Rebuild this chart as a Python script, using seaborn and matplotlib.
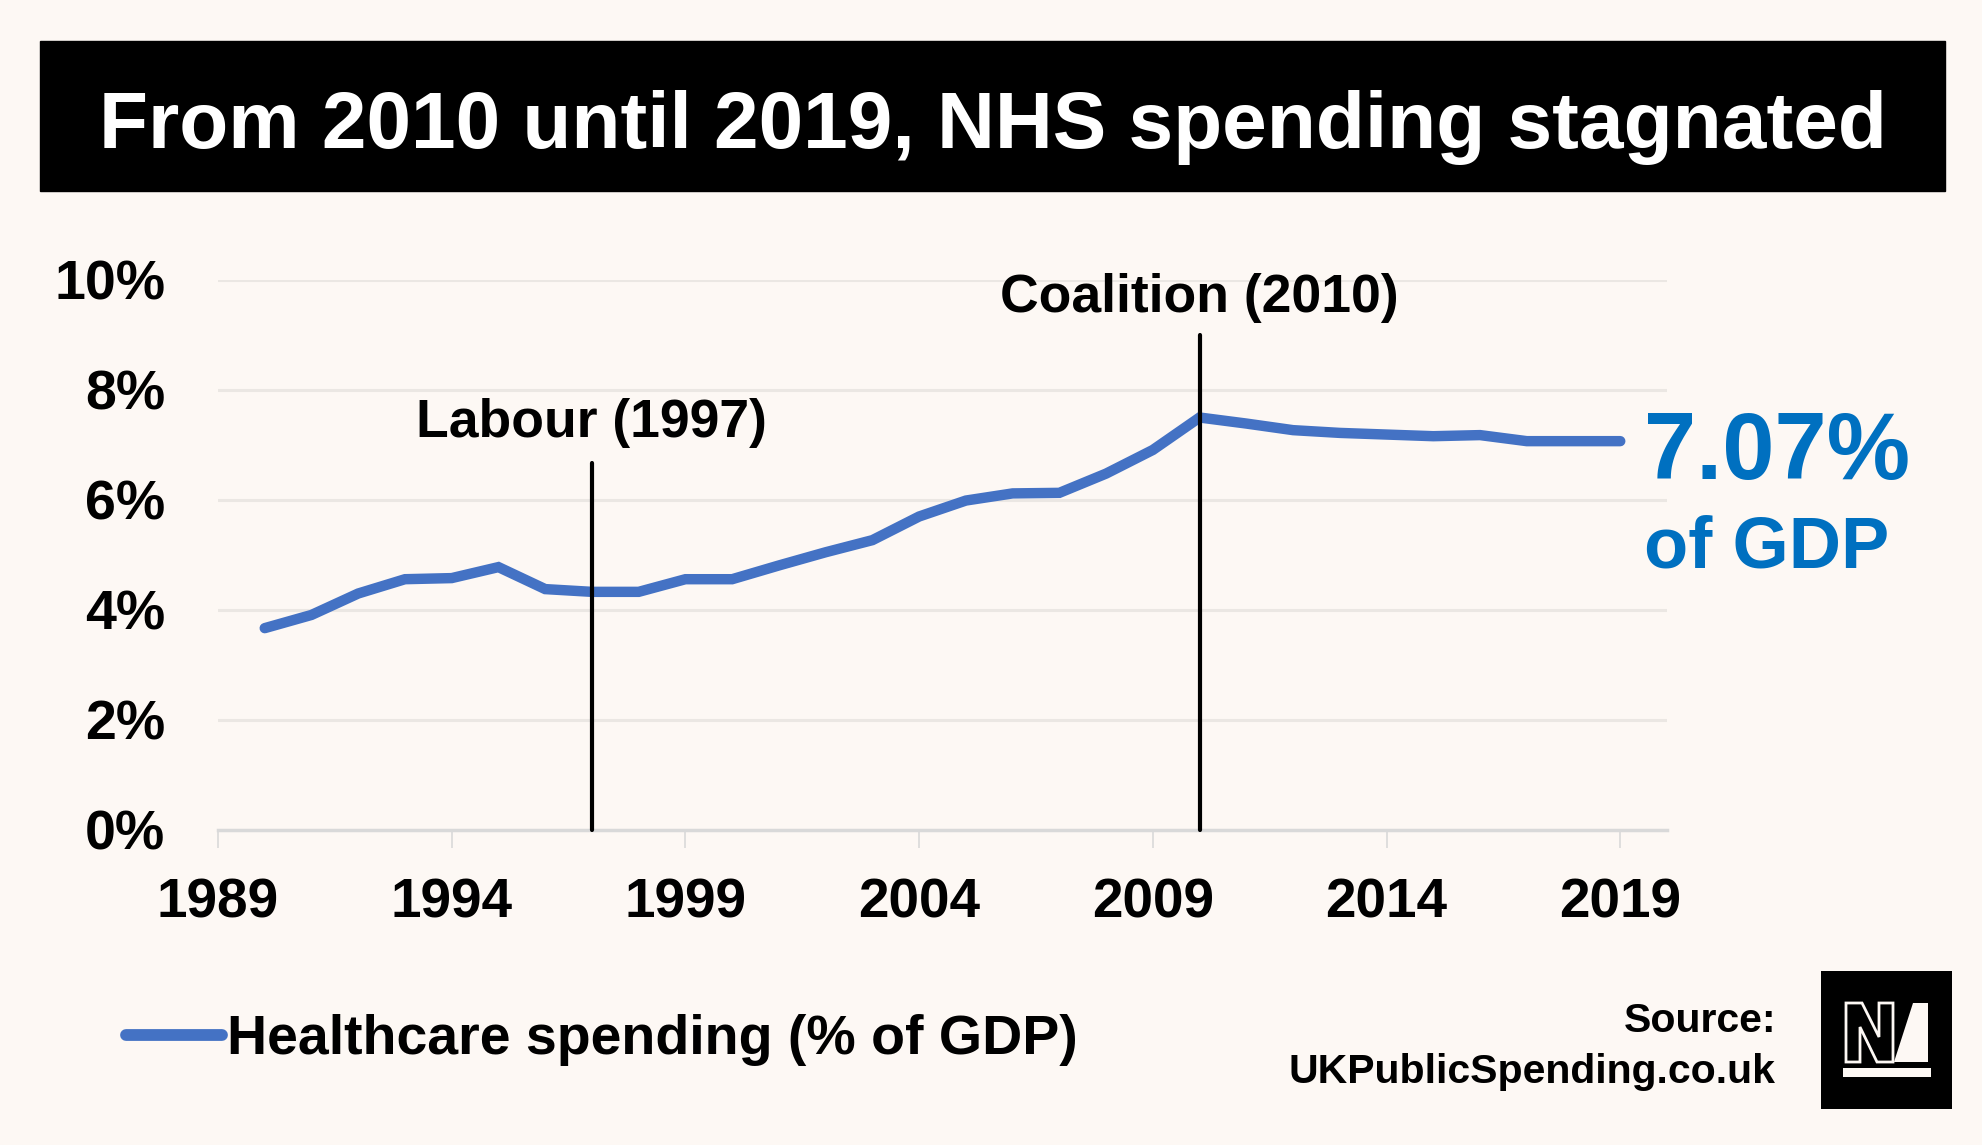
import matplotlib
matplotlib.use("Agg")
import matplotlib.pyplot as plt
from matplotlib.patches import Polygon, Rectangle
import pandas as pd
import seaborn as sns

# data (% of GDP)
years = list(range(1990, 2020))
spending = [3.67, 3.91, 4.30, 4.56, 4.58, 4.78, 4.38, 4.33, 4.33, 4.56,
            4.56, 4.81, 5.05, 5.27, 5.70, 5.99, 6.12, 6.13, 6.48, 6.91,
            7.50, 7.39, 7.27, 7.22, 7.19, 7.16, 7.18, 7.07, 7.07, 7.07]
x_ticks = [1989, 1994, 1999, 2004, 2009, 2014, 2019]
y_ticks = [0, 2, 4, 6, 8, 10]
events = ["Labour (1997)", "Coalition (2010)"]
event_years = [1997, 2010]

bg = "#FDF8F4"
blue = "#4472C4"

sns.set_theme(style="white")
plt.rcParams["font.family"] = ["Liberation Sans", "DejaVu Sans"]
plt.rcParams["font.weight"] = "bold"
plt.rcParams["text.color"] = "black"
plt.rcParams["xtick.color"] = "black"
plt.rcParams["ytick.color"] = "black"

df = pd.DataFrame({"year": years, "spending": spending})

fig = plt.figure(figsize=(19.83, 11.45), dpi=100, facecolor=bg)
ax = fig.add_axes([218 / 1983, 1 - 830 / 1145, 1449 / 1983, 550 / 1145])
ax.set_facecolor(bg)

# title bar
fig.patches.append(Rectangle((40 / 1983, 1 - 191 / 1145), 1905 / 1983, 150 / 1145,
                             transform=fig.transFigure, color="black", zorder=0))
fig.text(993 / 1983, 1 - 148 / 1145, "From 2010 until 2019, NHS spending stagnated",
         color="white", fontsize=57.8, fontweight="bold", ha="center", va="baseline")

sns.lineplot(data=df, x="year", y="spending", ax=ax, color=blue, linewidth=7.5,
             solid_capstyle="round", solid_joinstyle="miter", zorder=3,
             label="Healthcare spending (% of GDP)")

ax.set_xlim(1989, 2020)
ax.set_ylim(0, 10)
ax.set_xticks(x_ticks)
ax.set_yticks(y_ticks)
ax.set_yticklabels([f"{v}%" for v in y_ticks])
ax.set_xlabel("")
ax.set_ylabel("")
for v in y_ticks[1:]:
    ax.axhline(v, color="#EBE7E3", lw=2.2, zorder=1)
for s in ["top", "right", "left"]:
    ax.spines[s].set_visible(False)
ax.spines["bottom"].set_color("#D9D9D9")
ax.spines["bottom"].set_linewidth(2.5)
ax.tick_params(axis="x", direction="out", length=13, width=1.2, color="#D9D9D9",
               labelcolor="black", labelsize=39.5, pad=21, bottom=True)
ax.tick_params(axis="y", length=0, labelsize=40, labelcolor="black", pad=38)
for lab in ax.get_xticklabels() + ax.get_yticklabels():
    lab.set_fontweight("bold")

# event markers
line_tops = [6.67, 9.0]
text_y = [7.15, 9.42]
for name, yr, top, ty in zip(events, event_years, line_tops, text_y):
    ax.plot([yr, yr], [0, top], color="black", lw=3, zorder=4, clip_on=False)
    ax.text(yr, ty, name, ha="center", va="baseline", fontsize=38.5,
            fontweight="bold", color="black")

# end label
ax.text(2019.5, 6.38, f"{spending[-1]:.2f}%", color="#0070C0", fontsize=67.5,
        fontweight="bold", ha="left", va="baseline", clip_on=False)
ax.text(2019.5, 4.78, "of GDP", color="#0070C0", fontsize=52,
        fontweight="bold", ha="left", va="baseline", clip_on=False)

# legend
leg = ax.legend(loc="center left", bbox_to_anchor=(104 / 1983, 1 - 1040 / 1145),
                bbox_transform=fig.transFigure, frameon=False, fontsize=40,
                handlelength=1.72, handletextpad=0.1, borderaxespad=0)
for t in leg.get_texts():
    t.set_fontweight("bold")
    t.set_color("black")
for h in leg.get_lines():
    h.set_linewidth(8.5)
    h.set_solid_capstyle("round")

# source
fig.text(1776 / 1983, 1 - 1032 / 1145, "Source:", ha="right", va="baseline",
         fontsize=29.5, fontweight="bold")
fig.text(1776 / 1983, 1 - 1083 / 1145, "UKPublicSpending.co.uk", ha="right",
         va="baseline", fontsize=29.5, fontweight="bold")

# logo
lax = fig.add_axes([1821 / 1983, 1 - 1109 / 1145, 131 / 1983, 138 / 1145])
lax.set_xlim(0, 131)
lax.set_ylim(0, 138)
lax.set_facecolor("black")
lax.set_xticks([])
lax.set_yticks([])
for s in lax.spines.values():
    s.set_visible(False)
n_shape = [(25, 47), (25, 106), (41, 106), (58, 72), (58, 106), (72, 106),
           (72, 47), (56, 47), (39, 82), (39, 47)]
lax.add_patch(Polygon(n_shape, closed=True, facecolor="black", edgecolor=bg, lw=2))
lax.add_patch(Polygon([(73, 47), (92, 106), (107, 106), (107, 47)], closed=True,
                      facecolor=bg, edgecolor="none"))
lax.add_patch(Rectangle((22, 32), 88, 9, facecolor=bg, edgecolor="none"))

fig.savefig("out.png", dpi=100, facecolor=bg)
